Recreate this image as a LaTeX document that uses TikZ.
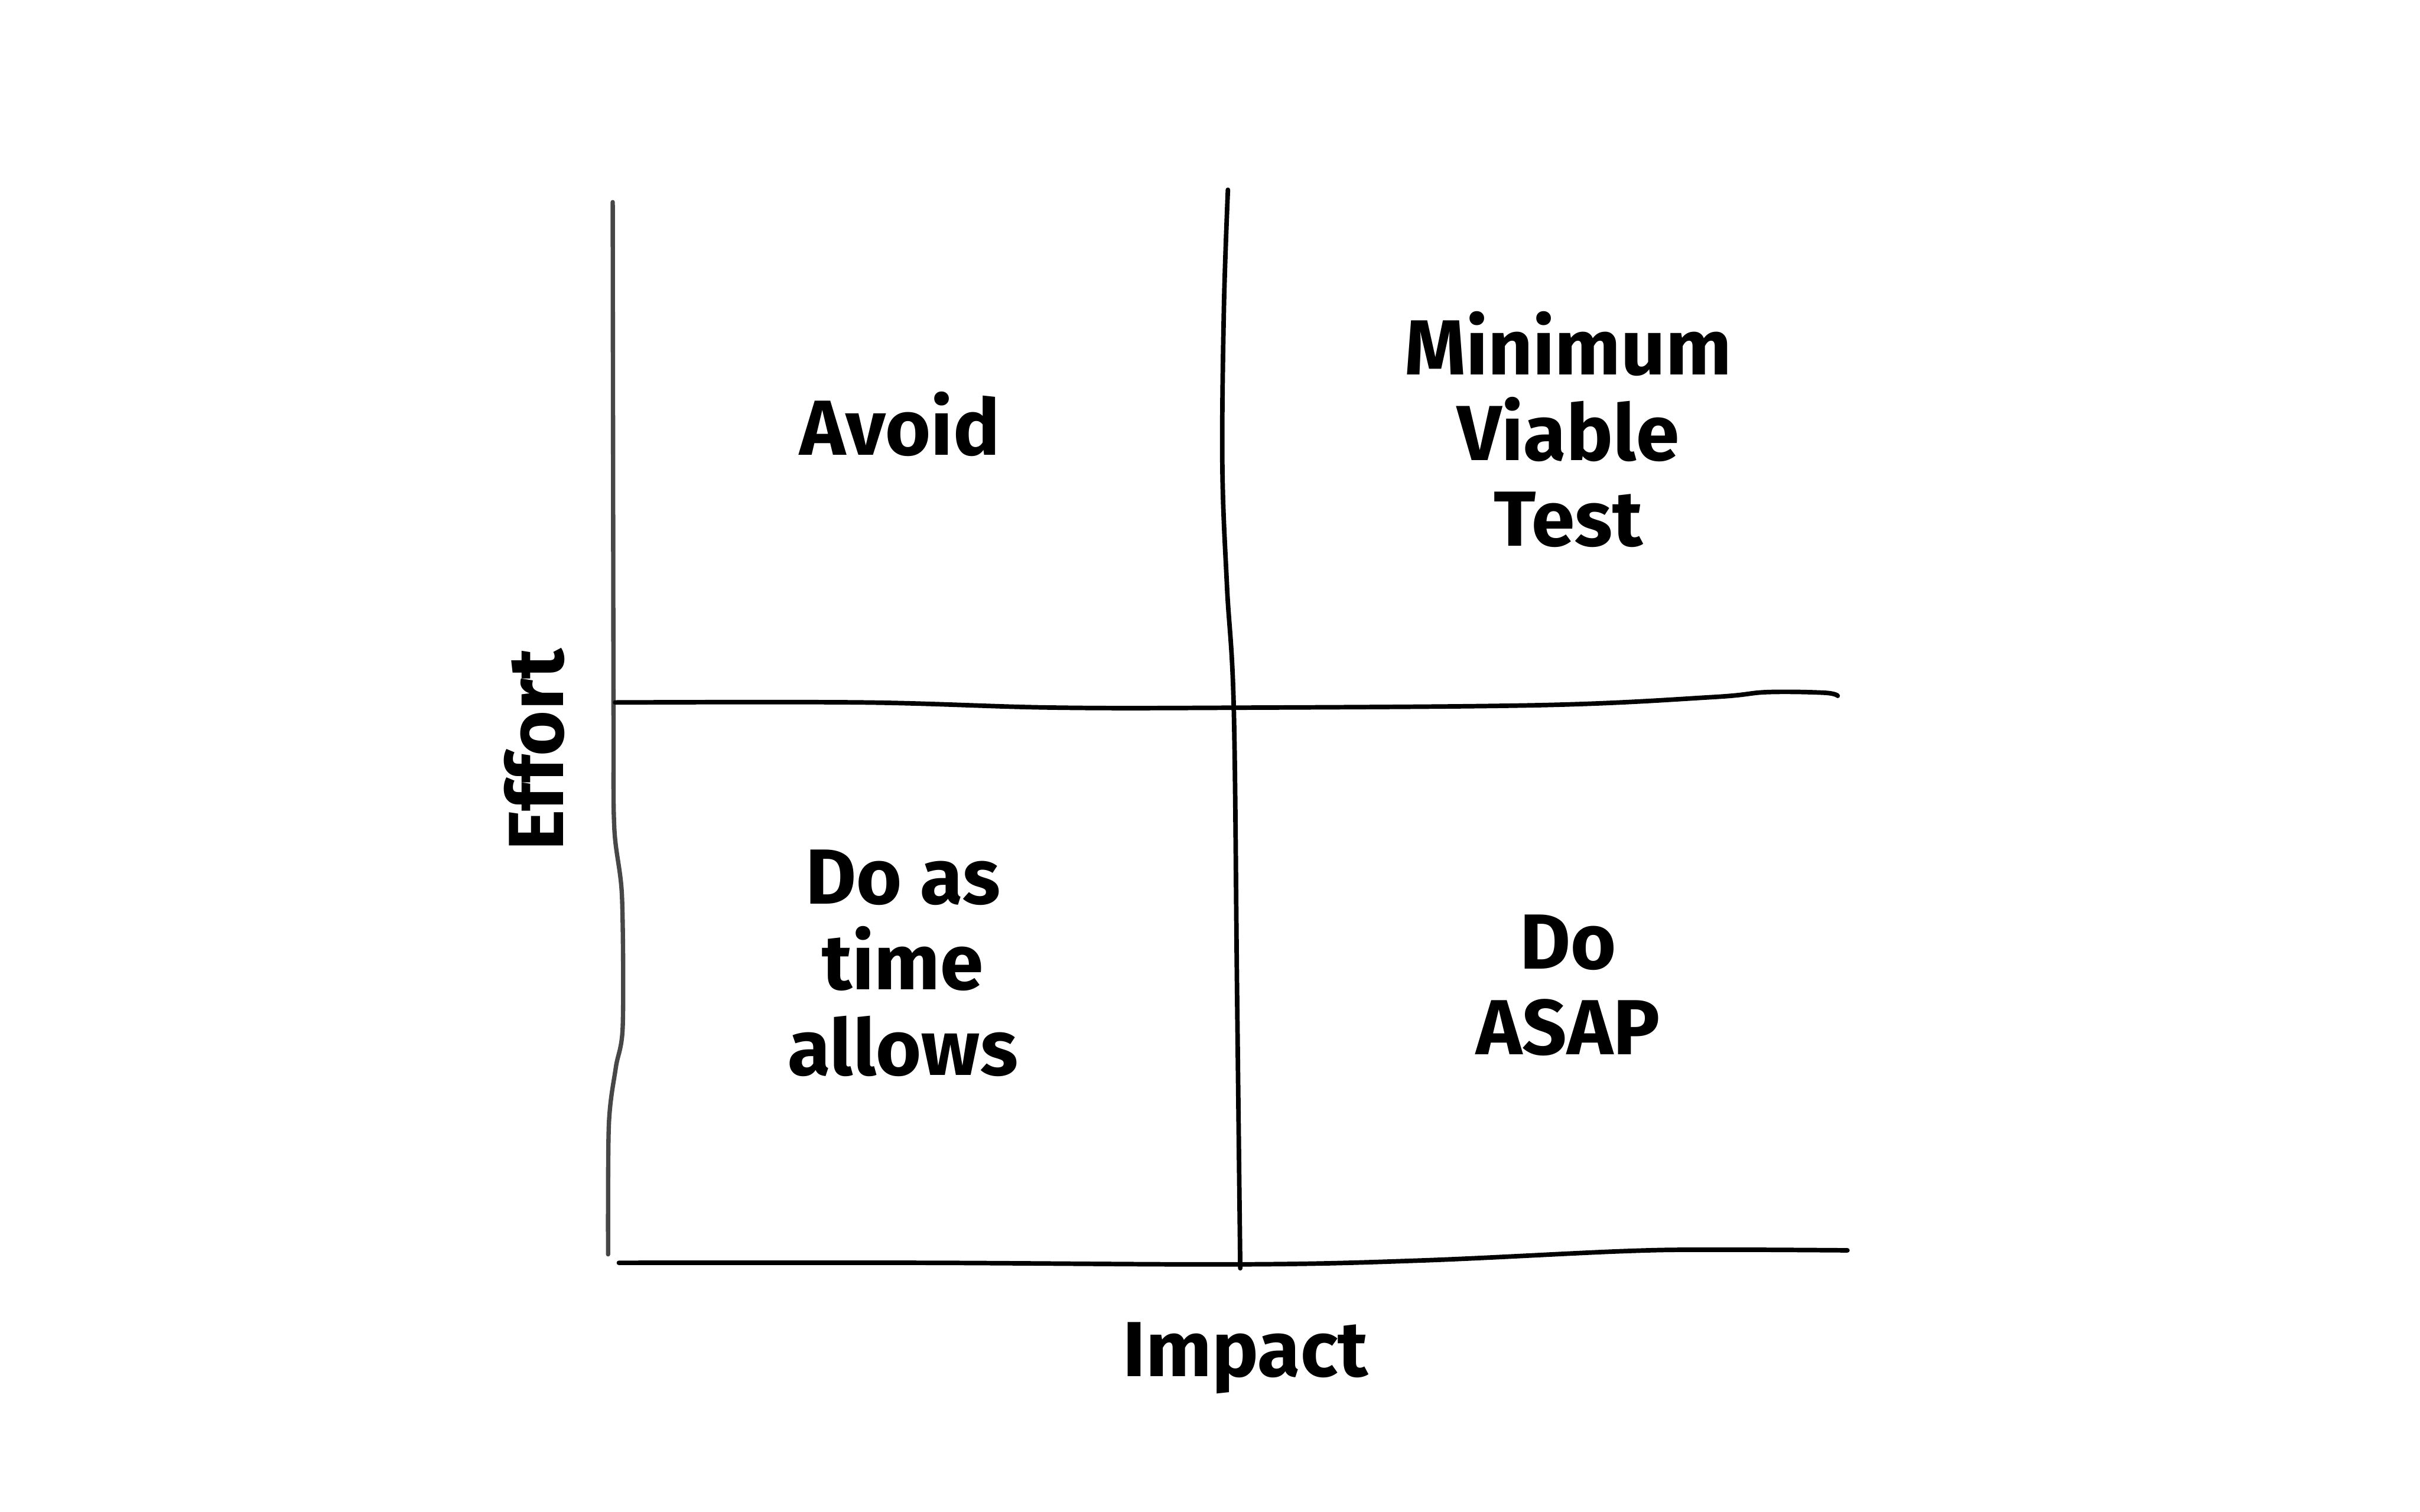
\documentclass[tikz,border=0pt]{standalone}
\usepackage{fontspec}
\setmainfont{Fira Sans}
\usetikzlibrary{positioning}

\begin{document}
\begin{tikzpicture}[
    x=0.025cm, y=-0.025cm,
    every node/.style={font=\fontsize{36}{39.5}\selectfont\bfseries, text=black, inner sep=0pt},
    sketch/.style={draw=black, line width=2.1pt, line cap=round, line join=round},
    faint/.style={sketch, draw=black!72, line width=2pt},
    quadtext/.style={align=center, anchor=base},
    axistext/.style={anchor=base},
]
\useasboundingbox (0,0) rectangle (1568,980);
% corners of the grid
\coordinate (top_l) at (397,131);
\coordinate (bot_l) at (394,813);
\coordinate (top_m) at (795.6,123);
\coordinate (bot_m) at (803.6,822);
\coordinate (mid_l) at (398.6,455.3);
\coordinate (mid_r) at (1190.7,451);
\coordinate (base_l) at (401,818.5);
\coordinate (base_r) at (1197,810.4);
% left axis
\draw[faint] plot[smooth, tension=0.5] coordinates {(top_l) (397.5,455) (398,536) (403,581) (403.5,665) (399,692) (394.5,729) (bot_l)};
% middle divider
\draw[sketch] plot[smooth, tension=0.6] coordinates {(top_m) (793,200) (792,302) (795,380) (799.4,459) (801.5,640) (bot_m)};
\draw[sketch] plot[smooth, tension=0.6] coordinates {(mid_l) (560,455.3) (681,458.6) (799.4,458.7) (1000,457) (1110,451.8) (1144.7,448.6) (1182,449) (mid_r)};
% bottom axis
\draw[sketch] plot[smooth, tension=0.6] coordinates {(base_l) (600,818.5) (803,819.5) (920,817) (1050,811) (1110,810) (base_r)};
% quadrant texts (base = last line)
\node[quadtext] (q_avoid) at (583,295) {Avoid};
\node[quadtext] (q_mvt) at (1016,353.8) {Minimum\\Viable\\Test};
\node[quadtext] (q_time) at (585,697) {Do as\\time\\allows};
\node[quadtext] (q_asap) at (1016,683.4) {Do\\ASAP};
% axis titles
\node[axistext] (ax_impact) at (807,892) {Impact};
\node[axistext, rotate=90] (ax_effort) at (365,486) {Effort};
\end{tikzpicture}
\end{document}
